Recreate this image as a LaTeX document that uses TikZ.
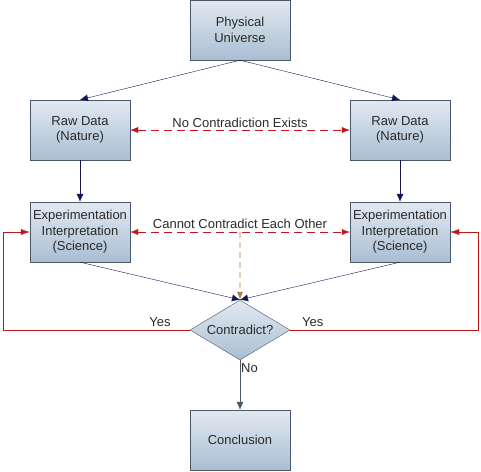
\documentclass[tikz,border=0pt]{standalone}
\usepackage{fontspec}
\setmainfont{Liberation Sans}
\usepackage{tikz}
\usetikzlibrary{calc, shapes.geometric, arrows.meta}
\usepackage{xcolor}
\definecolor{boxtop}{HTML}{E2E9F1}
\definecolor{boxbot}{HTML}{A9BED2}
\definecolor{boxline}{HTML}{4A5868}
\definecolor{flownavy}{HTML}{15165A}
\definecolor{loopred}{HTML}{C3161C}
\definecolor{tanline}{HTML}{A8804F}
\definecolor{inktext}{HTML}{2A2A2A}

\begin{document}
\begin{tikzpicture}[x=1pt, y=-1pt, font=\fontsize{13}{15.5}\selectfont]

        % 1. Styles for boxes and connectors
        \tikzset{
            block/.style={rectangle, draw=boxline, top color=boxtop, bottom color=boxbot,
                minimum width=100pt, minimum height=60pt, align=center, inner sep=1pt, text=inktext},
            decision/.style={diamond, draw=boxline, top color=boxtop, bottom color=boxbot,
                minimum width=100pt, minimum height=60pt, aspect=1.67, inner sep=0pt, text=inktext},
            tag/.style={text=inktext},
            flow/.style={flownavy, -{Latex[length=8pt, width=7pt]}},
            loop/.style={loopred, -{Latex[length=9pt, width=6pt]}},
            compare/.style={loopred, dashed, dash pattern=on 8pt off 5pt,
                {Latex[length=8pt, width=6pt]}-{Latex[length=8pt, width=6pt]}},
            feed/.style={tanline, semithick, dashed, dash pattern=on 6pt off 4pt, -{Latex[length=8pt, width=6pt]}}
        }
        \useasboundingbox (0,0) rectangle (481,471);

        % 2. Place the boxes
        \node[block] (universe) at (240,30) {Physical\\Universe};
        \node[block] (rawL) at (80,130) {Raw Data\\(Nature)};
        \node[block] (rawR) at (400,130) {Raw Data\\(Nature)};
        \node[block] (expL) at (80,232) {Experimentation\\Interpretation\\(Science)};
        \node[block] (expR) at (400,232) {Experimentation\\Interpretation\\(Science)};
        \node[decision] (contra) at (240,330) {Contradict?};
        \node[block] (concl) at (240,440) {Conclusion};

        % Corner points of the feedback loops
        \coordinate (edgeL) at (3,0);
        \coordinate (edgeR) at (478,0);
        \coordinate (mid) at ($(expL.east)!0.5!(expR.west)$);

        % 3. Main flow (navy)
        \draw[flow] (universe.south) -- (rawL.north);
        \draw[flow] (universe.south) -- (rawR.north);
        \draw[flow] (rawL) -- (expL);
        \draw[flow] (rawR) -- (expR);
        \draw[flow] (expL.south) -- (contra.north);
        \draw[flow] (expR.south) -- (contra.north);
        \draw[flow, boxline] (contra.south) -- node[tag, right, pos=0.16, inner sep=1pt] {No} (concl.north);

        % 4. Dashed comparisons
        \draw[compare] (rawL.east) -- node[tag, above, inner sep=2pt] {No Contradiction Exists} (rawR.west);
        \draw[compare] (expL.east) -- node[tag, above, inner sep=3pt] {Cannot Contradict Each Other} (expR.west);
        \draw[feed] (mid) -- (contra.north);

        % 5. Feedback when a contradiction is found
        \draw[loop] (contra.west) -- node[tag, above, pos=0.16, inner sep=3pt] {Yes} (contra.west -| edgeL) |- (expL.west);
        \draw[loop] (contra.east) -- node[tag, above, pos=0.12, inner sep=3pt] {Yes} (contra.east -| edgeR) |- (expR.east);

\end{tikzpicture}
\end{document}
